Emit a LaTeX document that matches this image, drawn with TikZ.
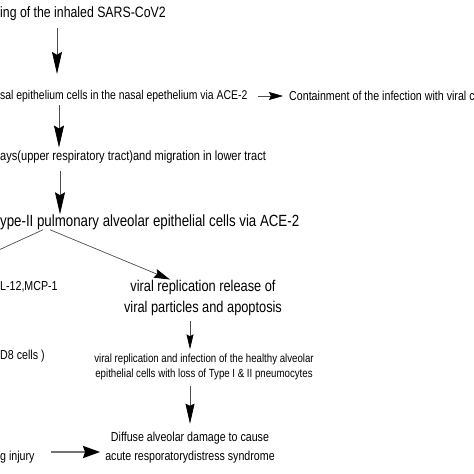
\documentclass[tikz,border=0pt]{standalone}
\usepackage{fontspec}
\setmainfont{Liberation Sans}[FakeStretch=0.82]
\usetikzlibrary{arrows.meta}

\begin{document}
\begin{tikzpicture}[x=1pt,y=-1pt,
  lbl/.style={inner sep=0pt,anchor=west},
  big/.style={font=\fontsize{15.6}{21}\selectfont},
  mid/.style={font=\fontsize{13}{19}\selectfont},
  small/.style={font=\fontsize{11.8}{15}\selectfont},
  arr/.style={line width=0.7pt,draw=black!70,-{Stealth[length=22pt,width=10pt,inset=3pt,black]}}]
\useasboundingbox (0,0) rectangle (474,474);
\node[lbl,font=\fontsize{15}{18}\selectfont] (inhale) at (0,14) {ing of the inhaled SARS-CoV2};
\node[lbl,font=\fontsize{12.7}{15}\selectfont] (nasal) at (0,96) {sal epithelium cells in the nasal epethelium via ACE-2};
\node[lbl,mid] (contain) at (289,96) {Containment of the infection with viral c};
\node[lbl,font=\fontsize{13.5}{16}\selectfont] (airway) at (0,157) {ays(upper respiratory tract)and migration in lower tract};
\node[lbl,font=\fontsize{16.2}{20}\selectfont] (alveolar) at (0,222) {ype-II pulmonary alveolar epithelial cells via ACE-2};
\node[lbl,mid] (cyto) at (0,287) {L-12,MCP-1};
\node[lbl,mid] (cd8) at (0,356) {D8 cells )};
\node[lbl,mid] (injury) at (0,457) {g injury};
\node[big,align=center,inner sep=0pt] (release) at (203,297.5) {viral replication release of\\viral particles and apoptosis};
\node[small,align=center,inner sep=0pt] (healthy) at (204,366.5) {viral replication and infection of the healthy alveolar\\epithelial cells with loss of Type I \& II pneumocytes};
\node[mid,align=center,inner sep=0pt] (ards) at (190,447.5) {Diffuse alveolar damage to cause\\acute resporatorydistress syndrome};
% arrows
\draw[arr,shorten <=7pt,shorten >=16pt] (inhale.south -| 57,0) -- (nasal.north -| 57,0);
\draw[arr,shorten <=3pt,shorten >=3pt] (nasal.south -| 59,0) -- (airway.north -| 59,0);
\draw[arr,shorten <=8pt] (airway.south -| 60,0) -- (alveolar.north -| 60,0);
\draw[arr,-{Stealth[length=14pt,width=8pt,inset=2pt,black]},shorten >=6pt] (nasal.east) ++(10,0) -- (contain.west);
\draw[draw=black!70,line width=0.7pt] (alveolar.south -| 43,0) -- (-10,254);
\draw[arr,-{Stealth[length=16pt,width=9pt,inset=2pt,black]}] (alveolar.south -| 50,0) -- (release.north -| 170,0);
\draw[arr,-{Stealth[length=15pt,width=7pt,inset=2pt,black]},shorten <=6pt,shorten >=4pt] (release.south -| 190,0) -- (healthy.north -| 190,0);
\draw[arr,-{Stealth[length=20pt,width=9pt,inset=2pt,black]},shorten <=6pt,shorten >=8pt] (healthy.south -| 190,0) -- (ards.north -| 190,0);
\draw[line width=2.4pt,draw=black!55,-{Stealth[length=17pt,width=12pt,inset=2pt,black]},shorten >=5pt] (injury.east) ++(16,-5) -- (ards.west |- 0,452);
\end{tikzpicture}
\end{document}
